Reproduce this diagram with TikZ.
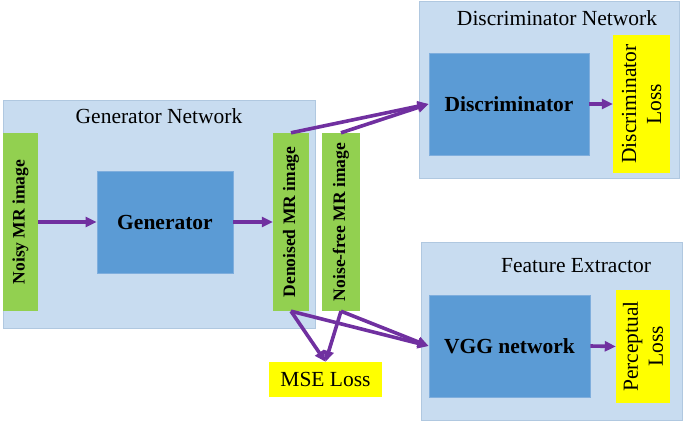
\documentclass[tikz,border=0pt]{standalone}
\usepackage{fontspec}
\setmainfont{Liberation Serif}
\usetikzlibrary{arrows.meta}
\definecolor{bgblue}{HTML}{C8DCF0}
\definecolor{bgedge}{HTML}{B0C8E0}
\definecolor{boxblue}{HTML}{5B9BD5}
\definecolor{boxedge}{HTML}{7FAEDD}
\definecolor{imggreen}{HTML}{92D050}
\definecolor{lossyellow}{HTML}{FFFF00}
\definecolor{arrowpurple}{HTML}{7030A0}
\tikzset{
  panel/.style={rectangle, fill=bgblue, draw=bgedge, line width=0.8pt, inner sep=0pt},
  block/.style={rectangle, fill=boxblue, draw=boxedge, line width=0.8pt, inner sep=0pt,
    font=\fontsize{21.5}{25}\selectfont\bfseries},
  imgbar/.style={rectangle, fill=imggreen, inner sep=0pt, rotate=90,
    font=\fontsize{17.5}{20}\selectfont\bfseries},
  lossbox/.style={rectangle, fill=lossyellow, inner sep=0pt,
    font=\fontsize{21.5}{25}\selectfont},
  title/.style={inner sep=0pt, font=\fontsize{21.5}{25}\selectfont},
  flow/.style={draw=arrowpurple, line width=3.6pt, -{Triangle[length=11pt,width=10pt]}}
}
\begin{document}
\begin{tikzpicture}[x=1pt,y=-1pt]
\useasboundingbox (0,0) rectangle (685,422);
% panels
\node[panel, minimum width=312pt, minimum height=228pt] (gnet) at (159,214) {};
\node[panel, minimum width=260pt, minimum height=177pt] (dnet) at (549,89.5) {};
\node[panel, minimum width=261pt, minimum height=178pt] (fnet) at (551.5,331) {};
% titles
\node[title] (gtitle) at (159,116) {Generator Network};
\node[title] (dtitle) at (557,18) {Discriminator Network};
\node[title] (ftitle) at (576,266) {Feature Extractor};
% images
\node[imgbar, minimum width=178pt, minimum height=35pt] (noisy) at (20.5,222) {Noisy MR image};
\node[imgbar, minimum width=178pt, minimum height=36pt] (denoised) at (291,222) {Denoised MR image};
\node[imgbar, minimum width=178pt, minimum height=38pt] (clean) at (341,222) {Noise-free MR image};
% blocks
\node[block, minimum width=136pt, minimum height=102pt] (gen) at (165,222) {Generator};
\node[block, minimum width=160pt, minimum height=102pt] (disc) at (509,104) {Discriminator};
\node[block, minimum width=161pt, minimum height=102pt] (vgg) at (509.5,346) {VGG network};
% losses
\node[lossbox, rotate=90, minimum width=138pt, minimum height=57pt, align=center] (dloss) at (641.5,104) {Discriminator\\Loss};
\node[lossbox, rotate=90, minimum width=113pt, minimum height=54pt, align=center] (ploss) at (643,346.5) {Perceptual\\Loss};
\node[lossbox, minimum width=113pt, minimum height=35pt] (mse) at (325.5,379.5) {MSE Loss};
% connectors
\draw[flow] (noisy.south) -- (gen.west);
\draw[flow] (gen.east) -- (denoised.north);
\draw[flow] (denoised.east) -- (disc.west);
\draw[flow] (clean.east) -- (disc.west);
\draw[flow] (disc.east) -- (dloss.north);
\draw[flow] (denoised.west) -- (vgg.west);
\draw[flow] (clean.west) -- (vgg.west);
\draw[flow] (denoised.west) -- (mse.north);
\draw[flow] (clean.west) -- (mse.north);
\draw[flow] (vgg.east) -- (ploss.north);
\end{tikzpicture}
\end{document}
